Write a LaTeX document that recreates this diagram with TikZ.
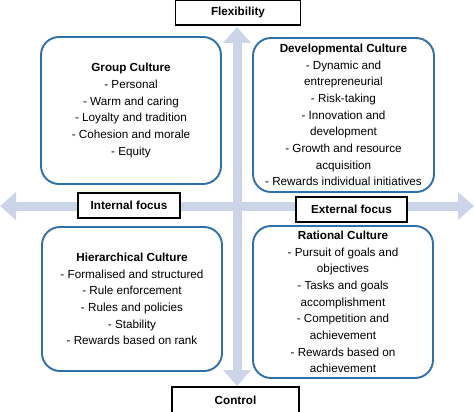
\documentclass[tikz,border=0pt]{standalone}
\usepackage{fontspec}
\setmainfont{Liberation Sans}
\usetikzlibrary{arrows.meta,positioning}
\definecolor{cultureblue}{HTML}{2E70AC}
\definecolor{axisgrey}{HTML}{CBD5E7}

\begin{document}
\begin{tikzpicture}[x=1pt,y=-1pt,
    culture/.style={draw=cultureblue,line width=1.9pt,rounded corners=18pt,fill=white,
      align=center,inner sep=0pt,font=\fontsize{11.7}{16.7}\selectfont},
    axislabel/.style={draw=black,line width=1.9pt,fill=white,inner sep=0pt,
      font=\fontsize{11.7}{14}\selectfont\bfseries},
    axisarrow/.style={axisgrey,line width=9pt,
      {Triangle[width=27pt,length=16pt]}-{Triangle[width=27pt,length=16pt]}}]
        \useasboundingbox (0,0) rectangle (474,412);
        % axes
        \coordinate (top) at (237,27);
        \coordinate (bottom) at (237,386);
        \coordinate (left) at (0,206);
        \coordinate (right) at (474,206);
        \draw[axisarrow] (top)--(bottom);
        \draw[axisarrow] (left)--(right);
        % axis labels
        \node[axislabel,minimum width=125pt,minimum height=25pt] (flex) at (238,12.5) {Flexibility};
        \node[axislabel,minimum width=127pt,minimum height=26pt] (control) at (235.5,400) {Control};
        \node[axislabel,minimum width=102pt,minimum height=25pt] (internal) at (129,205.5) {Internal focus};
        \node[axislabel,minimum width=111pt,minimum height=25pt] (external) at (351.5,209.5) {External focus};
        % quadrants
        \node[culture,minimum width=180pt,minimum height=147pt] (group) at (131,110.5)
          {\textbf{Group Culture}\\- Personal\\- Warm and caring\\- Loyalty and tradition\\- Cohesion and morale\\- Equity};
        \node[culture,minimum width=181pt,minimum height=154pt] (develop) at (343.5,115)
          {\textbf{Developmental Culture}\\- Dynamic and\\entrepreneurial\\- Risk-taking\\- Innovation and\\development\\- Growth and resource\\acquisition\\- Rewards individual initiatives};
        \node[culture,minimum width=180pt,minimum height=144pt] (hier) at (132,299)
          {\textbf{Hierarchical Culture}\\- Formalised and structured\\- Rule enforcement\\- Rules and policies\\- Stability\\- Rewards based on rank};
        \node[culture,minimum width=180pt,minimum height=152pt] (rational) at (343,302)
          {\textbf{Rational Culture}\\- Pursuit of goals and\\objectives\\- Tasks and goals\\accomplishment\\- Competition and\\achievement\\- Rewards based on\\achievement};
      \end{tikzpicture}
\end{document}
